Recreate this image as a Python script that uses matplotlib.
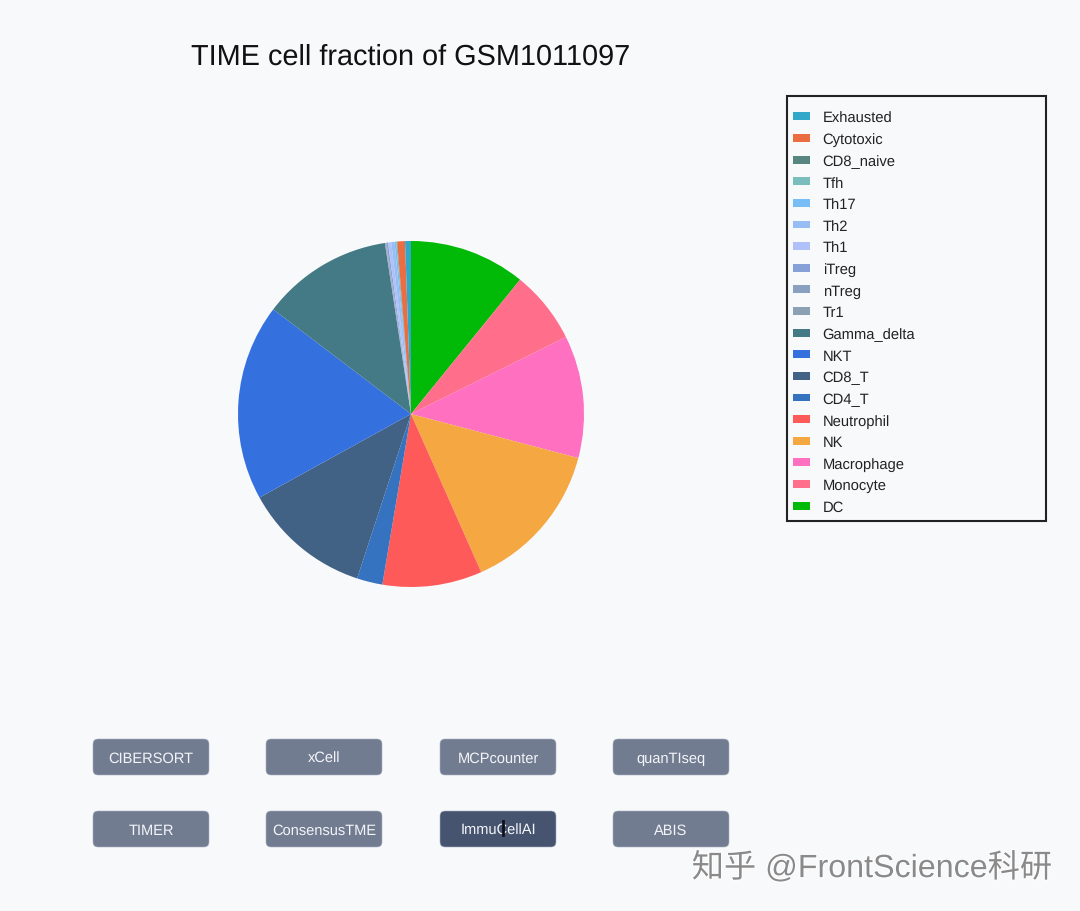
import matplotlib
matplotlib.use("Agg")
import matplotlib.pyplot as plt
from matplotlib.patches import FancyBboxPatch, Rectangle
import matplotlib.patheffects as pe

plt.rcParams['font.family'] = ['Liberation Sans', 'Noto Sans CJK SC', 'DejaVu Sans']
plt.rcParams['text.hinting'] = 'no_hinting'

cell_types = ["DC", "Monocyte", "Macrophage", "NK", "Neutrophil", "CD4_T", "CD8_T", "NKT",
              "Gamma_delta", "Tr1", "nTreg", "iTreg", "Th1", "Th2", "Th17", "Tfh",
              "CD8_naive", "Cytotoxic", "Exhausted"]
fractions = [10.86, 6.8, 11.44, 14.25, 9.3, 2.39, 11.94, 18.36,
             12.25, 0.07, 0.07, 0.15, 0.3, 0.3, 0.15, 0.05,
             0.05, 0.72, 0.55]
colors = ["#00BA07", "#FF6F8B", "#FF70C0", "#F5A742", "#FF5A5A", "#3572C0", "#426285", "#3570DF",
          "#437A85", "#8CA0B3", "#8AA0C0", "#88A0D8", "#B0C0F8", "#98BDF5", "#78BDF5", "#7ABDBD",
          "#578580", "#EB6D42", "#32A8C8"]
methods_top = ["CIBERSORT", "xCell", "MCPcounter", "quanTIseq"]
methods_bottom = ["TIMER", "ConsensusTME", "ImmuCellAI", "ABIS"]
active_method = "ImmuCellAI"
title = "TIME cell fraction of GSM1011097"
watermark = "知乎 @FrontScience科研"

W, H = 1080, 912
BG = "#F8F9FB"
fig = plt.figure(figsize=(W / 100, H / 100), dpi=100, facecolor=BG)

ax = fig.add_axes([238 / W, (H - 588) / H, 346 / W, 346 / H])
wedges, _ = ax.pie(fractions, colors=colors, startangle=90, counterclock=False, radius=1,
                   wedgeprops=dict(linewidth=0))
ax.set_xlim(-1, 1)
ax.set_ylim(-1, 1)
ax.set_aspect("equal")

over = fig.add_axes([0, 0, 1, 1], zorder=3)
over.set_xlim(0, W)
over.set_ylim(H, 0)
over.axis("off")
over.patch.set_alpha(0)

over.text(411, 57, title, fontsize=20.8, ha="center", va="center", color="#111111")

over.add_patch(Rectangle((787, 97), 259, 425, fc=BG, ec="#222222", lw=1.5))
leg = fig.legend(wedges[::-1], cell_types[::-1],
                 loc="upper left",
                 bbox_to_anchor=(781 / W, 1 - 525 / H, 259 / W, 425 / H),
                 mode="expand", ncols=1,
                 fontsize=10.6, frameon=False,
                 handlelength=1.17, handleheight=0.45, handletextpad=0.85,
                 labelspacing=0.519, borderpad=0.8, borderaxespad=0, labelcolor="#222222")
leg.set_zorder(4)

xs = [93, 266, 440, 613]
for y, row in zip([740, 812], [methods_top, methods_bottom]):
    for x, name in zip(xs, row):
        fc = "#475470" if name == active_method else "#727C91"
        over.add_patch(FancyBboxPatch((x + 4, y + 4), 108, 28,
                                      boxstyle="round,pad=4,rounding_size=5",
                                      fc=fc, ec="#A8B0C0", lw=0.4))
        over.text(x + 58, y + 23, name, color="#F2F4F8", fontsize=10.5,
                  ha="center", va="baseline")

over.plot([503, 503], [822, 836], color="#101018", lw=2, zorder=5)

over.text(872, 869, watermark, fontsize=23.2, ha="center", va="center", color="#8A8A8A",
          path_effects=[pe.withStroke(linewidth=1.5, foreground="white")], zorder=6)

fig.savefig("out.png", dpi=100, facecolor=BG)
